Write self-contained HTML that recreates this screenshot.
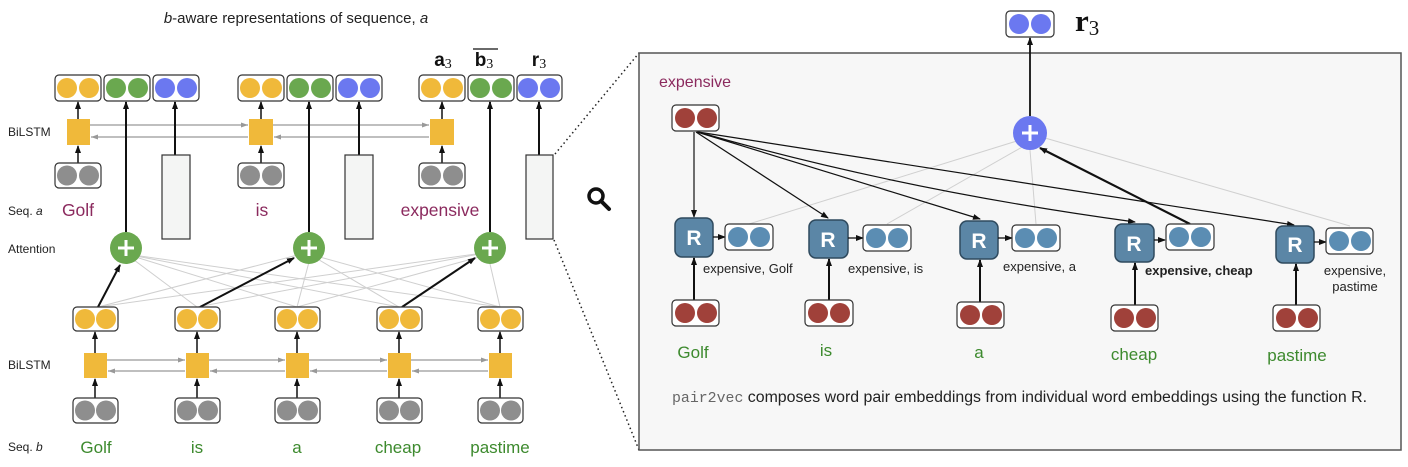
<!DOCTYPE html>
<html><head><meta charset="utf-8"><style>
html,body{margin:0;padding:0;background:#fff;}
svg{display:block;font-family:"Liberation Sans",sans-serif;}
</style></head><body>
<svg width="1408" height="467" viewBox="0 0 1408 467" xmlns="http://www.w3.org/2000/svg">
<defs>
<marker id="ah" markerWidth="8" markerHeight="8" refX="7" refY="4" orient="auto" markerUnits="userSpaceOnUse"><path d="M0,1 L8,4 L0,7 z" fill="#111"/></marker>
<marker id="ag" markerWidth="8" markerHeight="8" refX="7" refY="4" orient="auto" markerUnits="userSpaceOnUse"><path d="M0,1.5 L7,4 L0,6.5 z" fill="#999"/></marker>
</defs>

<!-- Title -->
<text x="296" y="23" font-size="15" text-anchor="middle" fill="#222"><tspan font-style="italic">b</tspan>-aware representations of sequence, <tspan font-style="italic">a</tspan></text>
<text x="443" y="66" font-size="19" text-anchor="middle" font-weight="bold" fill="#111">a<tspan font-size="14" font-weight="normal" font-family="Liberation Serif,serif" dy="2">3</tspan></text>
<text x="484" y="66" font-size="19" text-anchor="middle" font-weight="bold" fill="#111">b<tspan font-size="14" font-weight="normal" font-family="Liberation Serif,serif" dy="2">3</tspan></text>
<line x1="473" y1="49" x2="498" y2="49" stroke="#111" stroke-width="1.3"/>
<text x="539" y="66" font-size="19" text-anchor="middle" font-weight="bold" fill="#111">r<tspan font-size="14" font-weight="normal" font-family="Liberation Serif,serif" dy="2">3</tspan></text>

<!-- side labels -->
<g font-size="12" fill="#222">
<text x="8" y="136">BiLSTM</text>
<text x="8" y="215">Seq. <tspan font-style="italic">a</tspan></text>
<text x="8" y="253">Attention</text>
<text x="8" y="369">BiLSTM</text>
<text x="8" y="451">Seq. <tspan font-style="italic">b</tspan></text>
</g>

<!-- attention gray lines -->
<g stroke="#cfcfcf" stroke-width="1">
<line x1="98" y1="307" x2="309" y2="252"/><line x1="98" y1="307" x2="490" y2="252"/>
<line x1="197" y1="307" x2="126" y2="254"/><line x1="197" y1="307" x2="490" y2="252"/>
<line x1="297" y1="307" x2="126" y2="254"/><line x1="297" y1="307" x2="309" y2="262"/><line x1="297" y1="307" x2="490" y2="254"/>
<line x1="399" y1="307" x2="126" y2="254"/><line x1="399" y1="307" x2="309" y2="254"/>
<line x1="500" y1="307" x2="126" y2="254"/><line x1="500" y1="307" x2="309" y2="254"/><line x1="500" y1="307" x2="490" y2="264"/>
</g>
<g stroke="#111" stroke-width="2" marker-end="url(#ah)">
<line x1="98" y1="307" x2="120" y2="265"/>
<line x1="200" y1="307" x2="294" y2="258"/>
<line x1="402" y1="307" x2="475" y2="258"/>
</g>

<!-- top BiLSTM connectors -->
<g stroke="#999" stroke-width="1.2" marker-end="url(#ag)">
<line x1="90" y1="125" x2="248" y2="125"/><line x1="248" y1="137" x2="91" y2="137"/>
<line x1="273" y1="125" x2="429" y2="125"/><line x1="429" y1="137" x2="274" y2="137"/>
</g>
<!-- bottom BiLSTM connectors -->
<g stroke="#999" stroke-width="1.2" marker-end="url(#ag)">
<line x1="107" y1="360" x2="185" y2="360"/><line x1="185" y1="371" x2="108" y2="371"/>
<line x1="209" y1="360" x2="285" y2="360"/><line x1="285" y1="371" x2="210" y2="371"/>
<line x1="309" y1="360" x2="387" y2="360"/><line x1="387" y1="371" x2="310" y2="371"/>
<line x1="411" y1="360" x2="488" y2="360"/><line x1="488" y1="371" x2="412" y2="371"/>
</g>

<!-- vertical arrows top -->
<g stroke="#111" stroke-width="1.5" marker-end="url(#ah)">
<line x1="78" y1="163" x2="78" y2="146"/><line x1="78" y1="119" x2="78" y2="102"/>
<line x1="261" y1="163" x2="261" y2="146"/><line x1="261" y1="119" x2="261" y2="102"/>
<line x1="442" y1="163" x2="442" y2="146"/><line x1="442" y1="119" x2="442" y2="102"/>
</g>
<g stroke="#111" stroke-width="2" marker-end="url(#ah)">
<line x1="126" y1="232" x2="126" y2="102"/><line x1="309" y1="232" x2="309" y2="102"/><line x1="490" y1="232" x2="490" y2="102"/>
<line x1="175" y1="155" x2="175" y2="102"/><line x1="359" y1="155" x2="359" y2="102"/><line x1="539" y1="155" x2="539" y2="102"/>
</g>
<!-- vertical arrows bottom -->
<g stroke="#111" stroke-width="1.5" marker-end="url(#ah)">
<line x1="95" y1="398" x2="95" y2="379"/><line x1="95" y1="353" x2="95" y2="332"/>
<line x1="197" y1="398" x2="197" y2="379"/><line x1="197" y1="353" x2="197" y2="332"/>
<line x1="297" y1="398" x2="297" y2="379"/><line x1="297" y1="353" x2="297" y2="332"/>
<line x1="399" y1="398" x2="399" y2="379"/><line x1="399" y1="353" x2="399" y2="332"/>
<line x1="500" y1="398" x2="500" y2="379"/><line x1="500" y1="353" x2="500" y2="332"/>
</g>

<!-- tall rects -->
<g fill="#f4f5f4" stroke="#333" stroke-width="1.2">
<rect x="162" y="155" width="28" height="84"/>
<rect x="345" y="155" width="28" height="84"/>
<rect x="526" y="155" width="27" height="84"/>
</g>

<!-- top vector boxes -->
<g stroke="#333" stroke-width="1.2" fill="#fff">
<rect x="55" y="75" width="46" height="26" rx="4"/><rect x="104" y="75" width="46" height="26" rx="4"/><rect x="153" y="75" width="46" height="26" rx="4"/>
<rect x="238" y="75" width="46" height="26" rx="4"/><rect x="287" y="75" width="46" height="26" rx="4"/><rect x="336" y="75" width="46" height="26" rx="4"/>
<rect x="419" y="75" width="46" height="26" rx="4"/><rect x="468" y="75" width="46" height="26" rx="4"/><rect x="517" y="75" width="45" height="26" rx="4"/>
<rect x="55" y="163" width="46" height="25" rx="4"/><rect x="238" y="163" width="46" height="25" rx="4"/><rect x="419" y="163" width="46" height="25" rx="4"/>
</g>
<g fill="#f0b93a"><circle cx="67" cy="88" r="10"/><circle cx="89" cy="88" r="10"/><circle cx="250" cy="88" r="10"/><circle cx="272" cy="88" r="10"/><circle cx="431" cy="88" r="10"/><circle cx="453" cy="88" r="10"/></g>
<g fill="#6aa84f"><circle cx="116" cy="88" r="10"/><circle cx="138" cy="88" r="10"/><circle cx="299" cy="88" r="10"/><circle cx="321" cy="88" r="10"/><circle cx="480" cy="88" r="10"/><circle cx="502" cy="88" r="10"/></g>
<g fill="#6b78f0"><circle cx="165" cy="88" r="10"/><circle cx="187" cy="88" r="10"/><circle cx="348" cy="88" r="10"/><circle cx="370" cy="88" r="10"/><circle cx="528" cy="88" r="10"/><circle cx="550" cy="88" r="10"/></g>
<g fill="#8e8e8e"><circle cx="67" cy="175.5" r="10"/><circle cx="89" cy="175.5" r="10"/><circle cx="250" cy="175.5" r="10"/><circle cx="272" cy="175.5" r="10"/><circle cx="431" cy="175.5" r="10"/><circle cx="453" cy="175.5" r="10"/></g>
<!-- top squares -->
<g fill="#f0b93a"><rect x="67" y="119" width="23" height="26"/><rect x="249" y="119" width="24" height="26"/><rect x="430" y="119" width="24" height="26"/></g>

<!-- seq a labels -->
<g font-size="17.5" fill="#8b2a5e" text-anchor="middle">
<text x="78" y="216">Golf</text><text x="262" y="216">is</text><text x="440" y="216">expensive</text>
</g>

<!-- attention circles -->
<g fill="#6aa84f"><circle cx="126" cy="248" r="16"/><circle cx="309" cy="248" r="16"/><circle cx="490" cy="248" r="16"/></g>
<g stroke="#fff" stroke-width="3"><path d="M118,248h16M126,240v16"/><path d="M301,248h16M309,240v16"/><path d="M482,248h16M490,240v16"/></g>

<!-- bottom boxes -->
<g stroke="#333" stroke-width="1.2" fill="#fff">
<rect x="73" y="307" width="45" height="24" rx="4"/><rect x="175" y="307" width="45" height="24" rx="4"/><rect x="275" y="307" width="45" height="24" rx="4"/><rect x="377" y="307" width="45" height="24" rx="4"/><rect x="478" y="307" width="45" height="24" rx="4"/>
<rect x="73" y="398" width="45" height="25" rx="4"/><rect x="175" y="398" width="45" height="25" rx="4"/><rect x="275" y="398" width="45" height="25" rx="4"/><rect x="377" y="398" width="45" height="25" rx="4"/><rect x="478" y="398" width="45" height="25" rx="4"/>
</g>
<g fill="#f0b93a">
<circle cx="85" cy="319" r="10"/><circle cx="106" cy="319" r="10"/><circle cx="187" cy="319" r="10"/><circle cx="208" cy="319" r="10"/><circle cx="287" cy="319" r="10"/><circle cx="308" cy="319" r="10"/><circle cx="389" cy="319" r="10"/><circle cx="410" cy="319" r="10"/><circle cx="490" cy="319" r="10"/><circle cx="511" cy="319" r="10"/>
<rect x="84" y="353" width="23" height="25"/><rect x="186" y="353" width="23" height="25"/><rect x="286" y="353" width="23" height="25"/><rect x="388" y="353" width="23" height="25"/><rect x="489" y="353" width="23" height="25"/>
</g>
<g fill="#8e8e8e">
<circle cx="85" cy="410.5" r="10"/><circle cx="106" cy="410.5" r="10"/><circle cx="187" cy="410.5" r="10"/><circle cx="208" cy="410.5" r="10"/><circle cx="287" cy="410.5" r="10"/><circle cx="308" cy="410.5" r="10"/><circle cx="389" cy="410.5" r="10"/><circle cx="410" cy="410.5" r="10"/><circle cx="490" cy="410.5" r="10"/><circle cx="511" cy="410.5" r="10"/>
</g>
<g font-size="17" fill="#3d8a2e" text-anchor="middle">
<text x="96" y="453">Golf</text><text x="197" y="453">is</text><text x="297" y="453">a</text><text x="398" y="453">cheap</text><text x="500" y="453">pastime</text>
</g>

<!-- dotted zoom lines -->
<g stroke="#222" stroke-width="1.5" stroke-dasharray="1.5,3">
<line x1="555" y1="154" x2="639" y2="53"/>
<line x1="554" y1="240" x2="639" y2="450"/>
</g>
<!-- magnifier -->
<circle cx="596" cy="196" r="7" fill="none" stroke="#111" stroke-width="3.5"/>
<line x1="601" y1="201" x2="609" y2="209" stroke="#111" stroke-width="4" stroke-linecap="round"/>

<!-- right panel -->
<rect x="639" y="53" width="762" height="397" fill="#f7f7f7" stroke="#555" stroke-width="1.5"/>

<!-- r3 top -->
<rect x="1006" y="11" width="48" height="26" rx="4" fill="#fff" stroke="#333" stroke-width="1.2"/>
<circle cx="1019" cy="24" r="10" fill="#6b78f0"/><circle cx="1041" cy="24" r="10" fill="#6b78f0"/>
<text x="1075" y="31" font-size="31" font-family="Liberation Serif,serif" font-weight="bold" fill="#111">r<tspan font-size="21" font-weight="normal" dy="4">3</tspan></text>
<line x1="1030" y1="116" x2="1030" y2="38" stroke="#111" stroke-width="1.8" marker-end="url(#ah)"/>

<text x="659" y="87" font-size="16" fill="#8b2a5e">expensive</text>

<!-- gray lines to plus -->
<g stroke="#d0d0d0" stroke-width="1">
<line x1="749" y1="224" x2="1020" y2="140"/>
<line x1="887" y1="224" x2="1024" y2="146"/>
<line x1="1036" y1="224" x2="1030" y2="150"/>
<line x1="1350" y1="226" x2="1045" y2="138"/>
</g>
<line x1="1190" y1="224" x2="1040" y2="148" stroke="#111" stroke-width="2.2" marker-end="url(#ah)"/>

<!-- lines from expensive -->
<g stroke="#111" stroke-width="1.2" fill="none" marker-end="url(#ah)">
<line x1="694" y1="132" x2="694" y2="217"/>
<line x1="696" y1="132" x2="828" y2="218"/>
<line x1="697" y1="132" x2="980" y2="219"/>
<path d="M698,132 Q900,190 1135,222"/>
<path d="M698,132 Q1000,180 1294,225"/>
</g>

<!-- plus circle -->
<circle cx="1030" cy="133" r="17" fill="#6b78f0"/>
<path d="M1022,133h16M1030,125v16" stroke="#fff" stroke-width="3"/>

<!-- red top box -->
<rect x="672" y="105" width="47" height="26" rx="4" fill="#fff" stroke="#333" stroke-width="1.2"/>
<circle cx="685" cy="118" r="10" fill="#a0413a"/><circle cx="707" cy="118" r="10" fill="#a0413a"/>

<!-- R boxes -->
<g fill="#5b86a6" stroke="#2f4a5e" stroke-width="1.5">
<rect x="675" y="218" width="38" height="39" rx="7"/>
<rect x="809" y="220" width="39" height="38" rx="7"/>
<rect x="960" y="221" width="38" height="38" rx="7"/>
<rect x="1115" y="224" width="39" height="38" rx="7"/>
<rect x="1276" y="226" width="38" height="37" rx="7"/>
</g>
<g font-size="21" font-weight="bold" fill="#fff" text-anchor="middle">
<text x="694" y="245">R</text><text x="828" y="247">R</text><text x="979" y="248">R</text><text x="1134" y="251">R</text><text x="1295" y="252">R</text>
</g>
<!-- R -> out arrows -->
<g stroke="#111" stroke-width="1.3" marker-end="url(#ah)">
<line x1="713" y1="237" x2="725" y2="237"/>
<line x1="848" y1="238" x2="863" y2="238"/>
<line x1="998" y1="238" x2="1012" y2="238"/>
<line x1="1154" y1="240" x2="1165" y2="240"/>
<line x1="1314" y1="242" x2="1326" y2="242"/>
</g>
<!-- out boxes -->
<g fill="#fff" stroke="#333" stroke-width="1.2">
<rect x="725" y="224" width="48" height="26" rx="4"/>
<rect x="863" y="225" width="48" height="26" rx="4"/>
<rect x="1012" y="225" width="48" height="26" rx="4"/>
<rect x="1166" y="224" width="48" height="26" rx="4"/>
<rect x="1326" y="228" width="47" height="26" rx="4"/>
</g>
<g fill="#5b8db3">
<circle cx="738" cy="237" r="10"/><circle cx="760" cy="237" r="10"/>
<circle cx="876" cy="238" r="10"/><circle cx="898" cy="238" r="10"/>
<circle cx="1025" cy="238" r="10"/><circle cx="1047" cy="238" r="10"/>
<circle cx="1179" cy="237" r="10"/><circle cx="1201" cy="237" r="10"/>
<circle cx="1339" cy="241" r="10"/><circle cx="1361" cy="241" r="10"/>
</g>
<!-- pair labels -->
<g font-size="13" fill="#222">
<text x="703" y="273">expensive, Golf</text>
<text x="848" y="273">expensive, is</text>
<text x="1003" y="271">expensive, a</text>
<text x="1145" y="275" font-weight="bold">expensive, cheap</text>
<text x="1355" y="275" text-anchor="middle">expensive,</text>
<text x="1355" y="291" text-anchor="middle">pastime</text>
</g>

<!-- bottom red boxes & arrows -->
<g stroke="#111" stroke-width="2" marker-end="url(#ah)">
<line x1="694" y1="300" x2="694" y2="258"/>
<line x1="829" y1="300" x2="829" y2="259"/>
<line x1="980" y1="302" x2="980" y2="260"/>
<line x1="1135" y1="305" x2="1135" y2="263"/>
<line x1="1296" y1="305" x2="1296" y2="264"/>
</g>
<g fill="#fff" stroke="#333" stroke-width="1.2">
<rect x="672" y="300" width="47" height="26" rx="4"/>
<rect x="805" y="300" width="48" height="26" rx="4"/>
<rect x="957" y="302" width="47" height="26" rx="4"/>
<rect x="1111" y="305" width="47" height="26" rx="4"/>
<rect x="1273" y="305" width="47" height="26" rx="4"/>
</g>
<g fill="#a0413a">
<circle cx="685" cy="313" r="10"/><circle cx="707" cy="313" r="10"/>
<circle cx="818" cy="313" r="10"/><circle cx="840" cy="313" r="10"/>
<circle cx="970" cy="315" r="10"/><circle cx="992" cy="315" r="10"/>
<circle cx="1124" cy="318" r="10"/><circle cx="1146" cy="318" r="10"/>
<circle cx="1286" cy="318" r="10"/><circle cx="1308" cy="318" r="10"/>
</g>
<g font-size="17" fill="#3d8a2e" text-anchor="middle">
<text x="693" y="358">Golf</text><text x="826" y="356">is</text><text x="979" y="358">a</text><text x="1134" y="360">cheap</text><text x="1297" y="361">pastime</text>
</g>

<text x="672" y="402" font-size="15.5" fill="#222" textLength="695" lengthAdjust="spacingAndGlyphs"><tspan font-family="Liberation Mono,monospace" fill="#666" font-size="14.5">pair2vec</tspan> composes word pair embeddings from individual word embeddings using the function R.</text>
</svg>
</body></html>
